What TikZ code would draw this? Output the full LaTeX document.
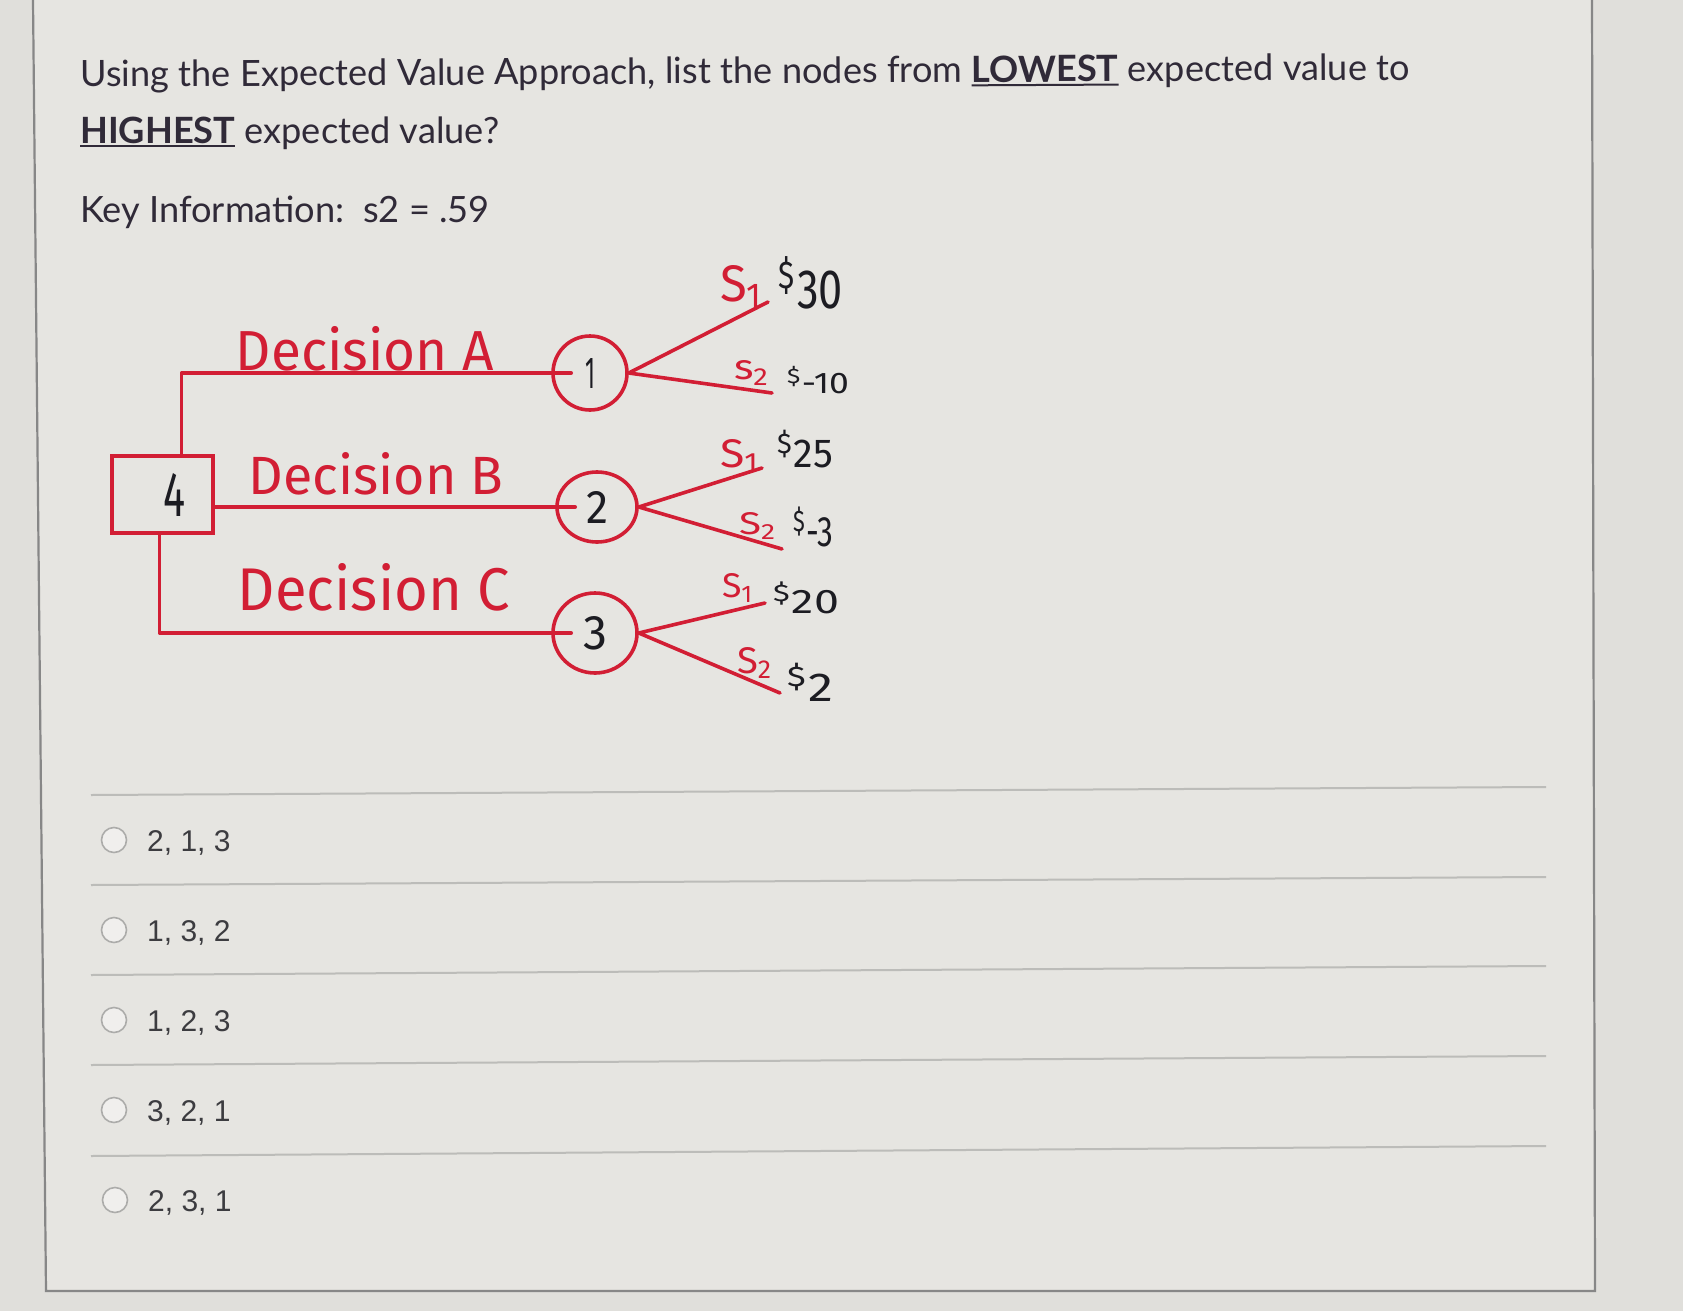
\documentclass[tikz,border=0pt]{standalone}
\usepackage{fontspec}
\setmainfont{Lato}
\newfontfamily\answerfont{Liberation Sans}
\newfontfamily\handfont{Fira Sans}
\usetikzlibrary{shapes.geometric}
\definecolor{bgpage}{RGB}{224,223,219}
\definecolor{bginner}{RGB}{230,229,225}
\definecolor{framegray}{RGB}{135,135,135}
\definecolor{sepgray}{RGB}{188,188,185}
\definecolor{radiogray}{RGB}{172,172,170}
\definecolor{inkred}{RGB}{210,30,52}
\definecolor{titleink}{RGB}{48,42,56}
\definecolor{penblack}{RGB}{28,28,34}
\definecolor{answerink}{RGB}{60,60,64}
\newcommand\myul[1]{\setbox0\hbox{#1}\rlap{\rule[-4pt]{\wd0}{2pt}}\box0\relax}
\newcommand\handtext[3]{\resizebox{#1pt}{#2pt}{\handfont #3}}
\begin{document}
\begin{tikzpicture}[x=1pt,y=-1pt,
  titletext/.style={anchor=base west,inner sep=0pt,text=titleink,font=\fontsize{36.2}{40}\selectfont},
  redline/.style={draw=inkred,line width=3.6pt,line cap=round,line join=round},
  decbox/.style={rectangle,draw=inkred,line width=3.6pt,minimum width=101pt,minimum height=77pt,inner sep=0pt,text=penblack},
  chance/.style={ellipse,draw=inkred,line width=3.6pt,inner sep=0pt,text=penblack},
  redlabel/.style={inner sep=0pt,text=inkred},
  paylabel/.style={inner sep=0pt,text=penblack},
  declabel/.style={inner sep=0pt,text=inkred},
  radio/.style={circle,draw=radiogray,line width=1.6pt,fill=bginner!60!white,minimum size=25pt,inner sep=0pt},
  answer/.style={anchor=base west,inner sep=0pt,text=answerink,font=\answerfont\fontsize{30}{34}\selectfont},
  sep/.style={draw=sepgray,line width=2pt},
  frameline/.style={draw=framegray,line width=2.2pt}
]
% background and frame
\fill[bgpage] (0,0) rectangle (1683,1311);
\useasboundingbox (0,0) rectangle (1683,1311);
\fill[bginner] (33,0) -- (1592,0) -- (1595,1291) -- (46,1291) -- cycle;
\draw[frameline] (33,0) -- (46,1291) -- (1595,1291) -- (1592,0);

% question text
\node[titletext,rotate=0.3] (q1) at (80,87) {Using the Expected Value Approach, list the nodes from \myul{\textbf{LOWEST}} expected value to};
\node[titletext] (q2) at (80,143) {\myul{\textbf{HIGHEST}} expected value?};
\node[titletext] (key) at (80,222) {Key Information:\ \ s2 = .59};

% decision tree
\node[decbox] (d4) at (162.5,494.5) {\hspace*{24pt}\handtext{22}{43}{4}};
\node[chance,minimum width=74pt,minimum height=74pt] (c1) at (590,373) {\handtext{10}{30}{1}};
\node[chance,minimum width=80pt,minimum height=70pt] (c2) at (597,507) {\handtext{22}{32}{2}};
\node[chance,minimum width=84pt,minimum height=80pt] (c3) at (595,633) {\handtext{24}{33}{3}};

\node[declabel] (la) at (365,349) {\handtext{258}{44}{Decision A}};
\node[declabel] (lb) at (376,474) {\handtext{255}{42}{Decision B}};
\node[declabel] (lc) at (374,587) {\handtext{272}{47}{Decision C}};

\draw[redline] (d4.north) ++(19,0) |- ([xshift=20pt]c1.west);
\draw[redline] (d4.east |- c2.west) -- ([xshift=20pt]c2.west);
\draw[redline] (d4.south) ++(-3,0) |- ([xshift=20pt]c3.west);

\coordinate (e1u) at (768,302);
\coordinate (e1l) at (772,393);
\coordinate (e2u) at (762,468);
\coordinate (e2l) at (782,549);
\coordinate (e3u) at (765,603);
\coordinate (e3l) at (780,693);
\draw[redline] (e1u) -- (c1.east) -- (e1l);
\draw[redline] (e2u) -- (c2.east) -- (e2l);
\draw[redline] (e3u) -- (c3.east) -- (e3l);

% state labels
\node[redlabel] (s11) at (742,287) {\handtext{44}{36}{S\textsubscript{1}}};
\node[redlabel] (s12) at (752,373) {\handtext{36}{19}{s\textsubscript{2}}};
\node[redlabel] (s21) at (740,456) {\handtext{40}{28}{S\textsubscript{1}}};
\node[redlabel] (s22) at (758,526) {\handtext{38}{22}{S\textsubscript{2}}};
\node[redlabel] (s31) at (738,588) {\handtext{32}{24}{S\textsubscript{1}}};
\node[redlabel] (s32) at (755,663) {\handtext{36}{26}{S\textsubscript{2}}};

% payoffs
\node[paylabel] (p11) at (811,283) {\handtext{64}{52}{\textsuperscript{\$}30}};
\node[paylabel] (p12) at (818,380) {\handtext{62}{28}{\textsuperscript{\$}-10}};
\node[paylabel] (p21) at (805,449) {\handtext{56}{38}{\textsuperscript{\$}25}};
\node[paylabel] (p22) at (813,527) {\handtext{40}{40}{\textsuperscript{\$}-3}};
\node[paylabel] (p31) at (806,598) {\handtext{66}{32}{\textsuperscript{\$}20}};
\node[paylabel] (p32) at (810,682) {\handtext{46}{38}{\textsuperscript{\$}2}};

% answer choices
\draw[sep] (91,795) -- (1546,787);
\draw[sep] (91,885) -- (1546,877);
\draw[sep] (91,975) -- (1546,966);
\draw[sep] (91,1065) -- (1546,1056);
\draw[sep] (91,1156) -- (1546,1146);

\node[radio] (r1) at (114,840) {};
\node[radio] (r2) at (114,930) {};
\node[radio] (r3) at (114,1020) {};
\node[radio] (r4) at (114,1110) {};
\node[radio] (r5) at (115,1200) {};
\node[answer] (a1) at (147,851) {2, 1, 3};
\node[answer] (a2) at (147,941) {1, 3, 2};
\node[answer] (a3) at (147,1031) {1, 2, 3};
\node[answer] (a4) at (147,1121) {3, 2, 1};
\node[answer] (a5) at (148,1211) {2, 3, 1};
\end{tikzpicture}
\end{document}
